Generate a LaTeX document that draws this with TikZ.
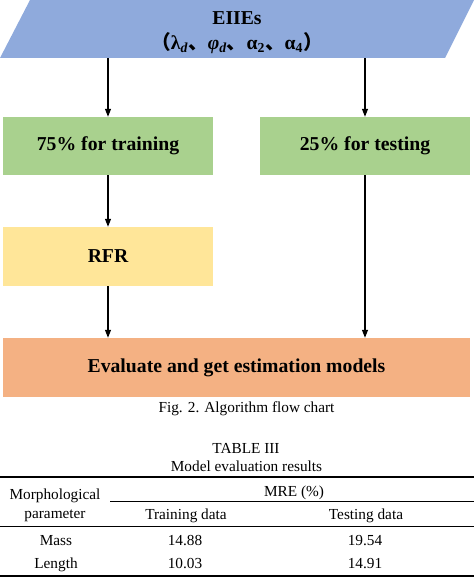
\documentclass[tikz,border=0pt]{standalone}
\usepackage{fontspec}
\setmainfont{Liberation Serif}
\newfontfamily\cjk{Noto Sans CJK SC}
\usetikzlibrary{arrows.meta}
\definecolor{fcblue}{RGB}{143,170,220}
\definecolor{fcgreen}{RGB}{169,209,142}
\definecolor{fcyellow}{RGB}{255,230,153}
\definecolor{fcorange}{RGB}{244,177,131}

\begin{document}
\begin{tikzpicture}[x=1pt,y=-1pt, %1 unit = 1 pixel of the 474x578 page, y pointing down
  box/.style={fill=#1,minimum height=58pt,inner sep=0pt,font=\fontsize{19.7}{25}\selectfont\bfseries},
  flow/.style={-{Triangle[length=8pt,width=6pt]},line width=1.2pt},
  tabtext/.style={inner sep=0pt,anchor=base,font=\fontsize{15.3}{18}\selectfont}]
\useasboundingbox (0,0) rectangle (474,578); %Fixes the page size
%Input data (parallelogram):
\fill[fcblue] (30,0)--(474,0)--(445,58)--(0,58)--cycle;
\node[box=none,fill=none,minimum width=445pt,minimum height=50pt,align=center] (data) at (237,33) {EIIEs\\{\cjk （}λ\textsubscript{\textit{d}}{\cjk 、}\textit{φ}\textsubscript{\textit{d}}{\cjk 、}α\textsubscript{2}{\cjk 、}α\textsubscript{4}{\cjk ）}};
%Flow chart boxes:
\node[box=fcgreen,minimum width=210pt] (train) at (108,146) {75\% for training};
\node[box=fcgreen,minimum width=210pt] (test) at (365,146) {25\% for testing};
\node[box=fcyellow,minimum width=210pt,minimum height=59pt] (rfr) at (108,256.5) {RFR};
\node[box=fcorange,minimum width=467pt,minimum height=59pt] (eval) at (236.5,367.5) {Evaluate and get estimation models};
%Arrows:
\draw[flow] (data.south -| train) -- (train);
\draw[flow] (data.south -| test) -- (test);
\draw[flow] (train) -- (rfr);
\draw[flow] (rfr) -- (eval.north -| rfr);
\draw[flow] (test) -- (eval.north -| test);
%Caption:
\node[tabtext] (caption) at (246.5,412) {Fig. 2. Algorithm flow chart};
%Table III:
\node[tabtext] (tabno) at (246,453) {TABLE III};
\node[tabtext] (tabtitle) at (246.5,471.5) {Model evaluation results};
\draw[line width=2pt] (0,477) -- (474,477); %Top rule
\draw[line width=1pt] (110,501.7) -- (474,501.7); %Rule under MRE
\draw[line width=1pt] (0,526.7) -- (474,526.7); %Rule under header
\draw[line width=2pt] (0,575.5) -- (474,575.5); %Bottom rule
\node[tabtext] (hparam) at (55,499) {Morphological};
\node[tabtext] (hparamb) at (55,518) {parameter};
\node[tabtext] (hmre) at (294,496.5) {MRE (\%)};
\node[tabtext] (htrain) at (186,519) {Training data};
\node[tabtext] (htest) at (366,519) {Testing data};
\node[tabtext] (mass) at (56,545.5) {Mass};
\node[tabtext] (masstr) at (185,545.5) {14.88};
\node[tabtext] (masste) at (365,545.5) {19.54};
\node[tabtext] (len) at (56,568.5) {Length};
\node[tabtext] (lentr) at (185,568.5) {10.03};
\node[tabtext] (lente) at (365,568.5) {14.91};
\end{tikzpicture}
\end{document}
